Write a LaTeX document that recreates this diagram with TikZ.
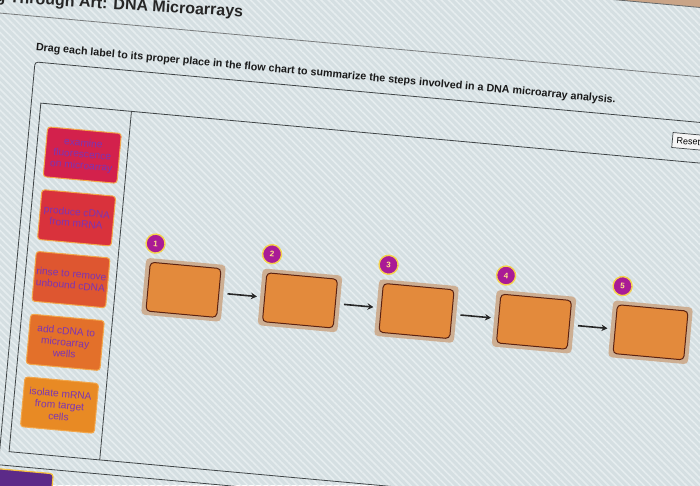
\documentclass[tikz,border=0pt]{standalone}
\usepackage{fontspec}
\setmainfont{Liberation Sans}
\usetikzlibrary{arrows.meta,patterns.meta}
\definecolor{bgc}{HTML}{D5DFE2}
\definecolor{stripe}{HTML}{E6EDEF}
\definecolor{linec}{HTML}{3F4446}
\definecolor{cardA}{HTML}{D3214C}
\definecolor{cardB}{HTML}{D9323C}
\definecolor{cardC}{HTML}{DE5630}
\definecolor{cardD}{HTML}{E3702A}
\definecolor{cardE}{HTML}{E88A24}
\definecolor{cardtxt}{HTML}{7B34B4}
\definecolor{cardrim}{HTML}{F2A64A}
\definecolor{slotframe}{HTML}{CDAE92}
\definecolor{slotfill}{HTML}{E38A3C}
\definecolor{slotedge}{HTML}{5A2212}
\definecolor{badgefill}{HTML}{A91B96}
\definecolor{badgering}{HTML}{F4D24C}
\definecolor{badgetxt}{HTML}{FFE48A}
\definecolor{topband}{HTML}{C9A487}
\definecolor{navbtn}{HTML}{5C2A88}
\begin{document}
\begin{tikzpicture}[x=1pt,y=-1pt,
  card/.style={rounded corners=3pt, fill=#1, draw=cardrim, line width=1pt,
    minimum width=74pt, minimum height=50pt, text=cardtxt, align=center,
    font=\fontsize{10.2}{11.4}\selectfont, inner sep=1pt},
  slotouter/.style={rounded corners=4pt, fill=slotframe, minimum width=80pt, minimum height=57pt, inner sep=0pt},
  slotinner/.style={rounded corners=4pt, fill=slotfill, draw=slotedge, line width=1pt,
    minimum width=71pt, minimum height=49pt, inner sep=0pt},
  badgenode/.style={circle, fill=badgefill, draw=badgering, line width=1.4pt, minimum size=19pt,
    inner sep=0pt, text=badgetxt, font=\bfseries\fontsize{8}{8}\selectfont},
  flowarrow/.style={-{Stealth[length=6pt,width=6.5pt]}, line width=1.6pt, black!85,
    shorten <=4pt, shorten >=3pt},
  panelline/.style={draw=linec, line width=0.8pt}]
\clip (0,0) rectangle (700,485);
\useasboundingbox (0,0) rectangle (700,485);
\fill[bgc] (0,0) rectangle (700,485);
\fill[pattern={Lines[angle=-45,distance=5pt,line width=1.6pt]}, pattern color=stripe] (0,0) rectangle (700,485);

% title (less tilted than the rest)
\node[anchor=base east, rotate=-3.5, inner sep=0pt, text=black!85,
  font=\bfseries\fontsize{16}{16}\selectfont] (ttl) at (243,17) {Learning Through Art: DNA Microarrays};

\begin{scope}[rotate=-5.2, transform shape]
  % top band at the far right
  \fill[topband] (560,-120) rectangle (800,-56);
  \draw[linec!80, line width=0.8pt] (560,-56) -- (800,-56);
  % title underline
  \draw[linec!70, line width=0.8pt] (-60,13) -- (800,13);
  % instruction
  \node[anchor=base west, inner sep=0pt, text=black!90] (instr) at (40,47)
    {\resizebox{582pt}{!}{\bfseries Drag each label to its proper place in the flow chart to summarize the steps involved in a DNA microarray analysis.}};
  % outer panel
  \draw[panelline, rounded corners=3pt] (40.5,463) -- (40.5,58.5) -- (800,58.5);
  \draw[panelline] (40.5,463) -- (800,463);
  % reset button
  \node[draw=linec, fill=white!92!gray, line width=0.7pt, anchor=west, minimum height=15pt,
    minimum width=44pt, inner sep=2pt, font=\fontsize{9}{9}\selectfont, align=left] (reset) at (682,78.5) {Reset\hspace{12pt}};
  % inner frame
  \fill[bgc] (50,99) rectangle (800,449);
  \fill[pattern={Lines[angle=-45,distance=5pt,line width=1.6pt]}, pattern color=stripe] (50,99) rectangle (800,449);
  \draw[panelline] (50,99) rectangle (800,449);
  \draw[panelline] (141,99) -- (141,449);
  % bottom nav button
  \draw[fill=navbtn, draw=badgering!80!orange, line width=1.2pt, rounded corners=3pt] (28,467) rectangle (96,510);

  % label cards
  \node[card=cardA] (lab1) at (96,147) {examine\\fluorescence\\on microarray};
  \node[card=cardB] (lab2) at (96,210) {produce cDNA\\from mRNA};
  \node[card=cardC] (lab3) at (96,272) {rinse to remove\\unbound cDNA};
  \node[card=cardD] (lab4) at (96,335) {add cDNA to\\microarray\\wells};
  \node[card=cardE] (lab5) at (96,398) {isolate mRNA\\from target\\cells};

  % flow chart targets
  \foreach \i/\u in {1/209,2/326,3/443,4/561,5/678}{
    \node[slotouter] (t\i) at (\u,272) {};
    \node[slotinner] (b\i) at (\u,272) {};
    \node[badgenode] (n\i) at (\u-32,228.5) {\i};
  }
  \draw[flowarrow] (t1.east) -- (t2.west);
  \draw[flowarrow] (t2.east) -- (t3.west);
  \draw[flowarrow] (t3.east) -- (t4.west);
  \draw[flowarrow] (t4.east) -- (t5.west);
\end{scope}
\end{tikzpicture}
\end{document}
